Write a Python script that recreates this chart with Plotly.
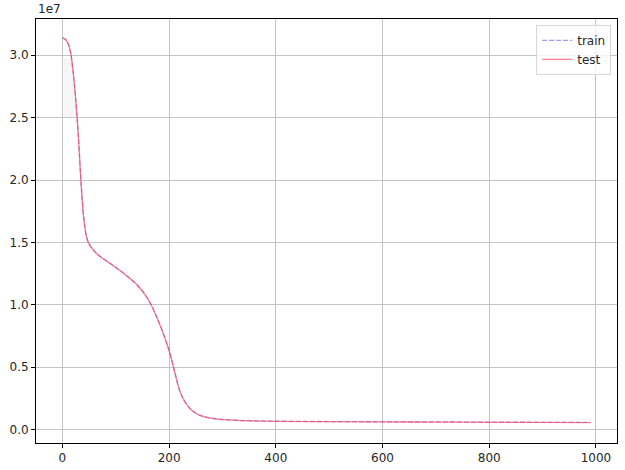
import plotly.graph_objects as go

# Data (values in units of 1e7)
epochs = [0, 5, 10, 15, 20, 25, 30, 35, 40, 45, 50, 60, 70, 80, 100, 120, 140, 160, 180,
          200, 210, 220, 230, 240, 250, 260, 280, 300, 350, 400, 500, 600, 700, 800, 900, 990]
train_loss = [3.14, 3.13, 3.10, 3.03, 2.87, 2.65, 2.35, 1.98, 1.70, 1.55, 1.49, 1.43, 1.39, 1.36,
              1.30, 1.235, 1.16, 1.05, 0.87, 0.635, 0.47, 0.31, 0.22, 0.165, 0.13, 0.11, 0.09,
              0.08, 0.07, 0.066, 0.063, 0.061, 0.060, 0.058, 0.057, 0.056]
test_loss = [3.14, 3.13, 3.10, 3.03, 2.87, 2.64, 2.34, 1.97, 1.69, 1.545, 1.485, 1.428, 1.388, 1.358,
             1.298, 1.233, 1.158, 1.048, 0.868, 0.633, 0.468, 0.308, 0.218, 0.164, 0.129, 0.109, 0.089,
             0.079, 0.069, 0.065, 0.062, 0.060, 0.059, 0.057, 0.056, 0.055]
band_x = [0, 0, 16, 22, 27.5, 0]
band_y = [2.51, 2.98, 2.98, 2.76, 2.51, 2.51]

scale = 1e7
ytick_vals = [0.0, 0.5, 1.0, 1.5, 2.0, 2.5, 3.0]
ytick_text = ["0.0", "0.5", "1.0", "1.5", "2.0", "2.5", "3.0"]
xtick_vals = [0, 200, 400, 600, 800, 1000]

font = dict(family="DejaVu Sans", size=12, color="#262626")

fig = go.Figure()
fig.add_trace(go.Scatter(x=band_x, y=[v * scale for v in band_y], fill="toself",
                         fillcolor="rgba(238,238,238,0.5)", line=dict(width=0),
                         mode="lines", showlegend=False, hoverinfo="skip"))
fig.add_trace(go.Scatter(x=epochs, y=[v * scale for v in train_loss], name="train",
                         mode="lines", line=dict(color="rgba(90,90,235,0.6)", width=1.3,
                                                 dash="5px,2px", shape="spline")))
fig.add_trace(go.Scatter(x=epochs, y=[v * scale for v in test_loss], name="test",
                         mode="lines", line=dict(color="rgba(255,60,90,0.65)", width=1.3, shape="spline")))

axis_common = dict(showline=True, linecolor="black", linewidth=1, mirror=True,
                   ticks="outside", ticklen=4, tickcolor="black", tickwidth=1,
                   showgrid=True, gridcolor="#c4c4c4", gridwidth=1, zeroline=False,
                   tickfont=font, automargin=False)

fig.update_xaxes(range=[-49.5, 1039.5], tickvals=xtick_vals, **axis_common)
fig.update_yaxes(range=[-0.109 * scale, 3.291 * scale], tickvals=[v * scale for v in ytick_vals],
                 ticktext=ytick_text, **axis_common)

fig.update_layout(
    width=625, height=470,
    margin=dict(l=36, r=8, t=19, b=27),
    paper_bgcolor="white", plot_bgcolor="white",
    font=font,
    legend=dict(x=0.99, y=0.986, xanchor="right", yanchor="top",
                bgcolor="rgba(255,255,255,0.8)", bordercolor="#d8d8d8", borderwidth=1,
                font=dict(family="DejaVu Sans", size=12, color="#262626"),
                itemwidth=30, tracegroupgap=0),
    annotations=[dict(text="1e7", x=0, y=1, xref="paper", yref="paper",
                      xanchor="left", yanchor="bottom", showarrow=False, yshift=1,
                      font=font)],
)

fig.write_html("out.html", config={"displayModeBar": False},
               post_script="document.body.style.margin='0';document.body.style.overflow='hidden';")
